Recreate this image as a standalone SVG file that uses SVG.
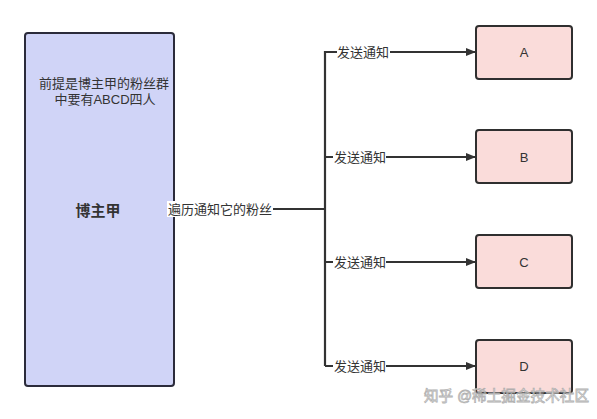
<svg xmlns="http://www.w3.org/2000/svg" width="597" height="419" viewBox="0 0 597 419">
<style>
.t{font-family:"Liberation Sans","Noto Sans CJK SC",sans-serif;fill:#333;text-anchor:middle;dominant-baseline:central}
.lbl{font-size:13px}
.node{fill:#fadcda;stroke:#2f2f2f;stroke-width:2}
.line{fill:none;stroke:#333;stroke-width:2.2}
</style>
<defs>
<marker id="ah" markerWidth="10" markerHeight="8" refX="10" refY="4" orient="auto" markerUnits="userSpaceOnUse">
<path d="M0,0 L10,4 L0,8 Z" fill="#333"/>
</marker>
</defs>
<rect width="597" height="419" fill="#fff"/>
<g id="blogger">
<rect x="25" y="33" width="149" height="353" rx="3" fill="#d0d4f7" stroke="#2b2b3b" stroke-width="2"/>
<text class="t" x="104" y="83" font-size="13">前提是博主甲的粉丝群</text>
<text class="t" x="105" y="99" font-size="13">中要有ABCD四人</text>
<text class="t" x="98" y="210" font-size="15" font-weight="bold">博主甲</text>
</g>
<g id="connectors">
<path class="line" d="M174,209 H325"/>
<path class="line" d="M325,51 V366"/>
<path class="line" d="M325,52 H476" marker-end="url(#ah)"/>
<path class="line" d="M325,157 H476" marker-end="url(#ah)"/>
<path class="line" d="M325,262 H476" marker-end="url(#ah)"/>
<path class="line" d="M325,366 H476" marker-end="url(#ah)"/>
<rect x="167" y="201" width="106" height="16" fill="#fff"/>
<text class="t lbl" x="220" y="209">遍历通知它的粉丝</text>
<rect x="337" y="44" width="53" height="16" fill="#fff"/>
<text class="t lbl" x="363" y="52">发送通知</text>
<rect x="333" y="149" width="53" height="16" fill="#fff"/>
<text class="t lbl" x="360" y="157">发送通知</text>
<rect x="333" y="254" width="53" height="16" fill="#fff"/>
<text class="t lbl" x="360" y="262">发送通知</text>
<rect x="333" y="358" width="53" height="16" fill="#fff"/>
<text class="t lbl" x="360" y="366">发送通知</text>
</g>
<g id="A"><rect class="node" x="476" y="26" width="96" height="53" rx="3"/><text class="t" x="524" y="52" font-size="13">A</text></g>
<g id="B"><rect class="node" x="476" y="130" width="96" height="53" rx="3"/><text class="t" x="524" y="157" font-size="13">B</text></g>
<g id="C"><rect class="node" x="476" y="235" width="96" height="53" rx="3"/><text class="t" x="524" y="262" font-size="13">C</text></g>
<g id="D"><rect class="node" x="476" y="340" width="96" height="53" rx="3"/><text class="t" x="524" y="366" font-size="13">D</text></g>
<text x="424" y="401" font-family="Liberation Sans,Noto Sans CJK SC,sans-serif" font-size="15" textLength="165" lengthAdjust="spacingAndGlyphs" fill="#fff" stroke="#aaa" stroke-width="0.8" opacity="0.9">知乎 @稀土掘金技术社区</text>
</svg>
